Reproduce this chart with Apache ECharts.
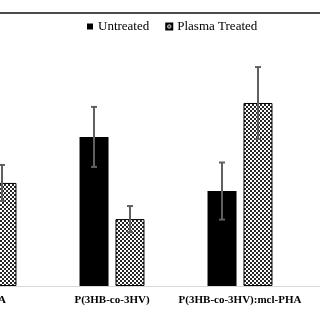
<!DOCTYPE html>
<html>
<head>
<meta charset="utf-8">
<script src="https://cdn.jsdelivr.net/npm/echarts@6/dist/echarts.min.js"></script>
<style>
  html, body { margin: 0; padding: 0; background: #fff; overflow: hidden; width: 320px; height: 320px; }
  /* 图表比窗口宽，左侧被裁掉 */
  #chart { position: absolute; left: -80px; top: 0; width: 512px; height: 320px; }
</style>
</head>
<body>
<div id="chart"></div>
<script>
(function() {
// ── 数据 ──
const categories = ['mcl-PHA', 'P(3HB-co-3HV)', 'P(3HB-co-3HV):mcl-PHA', ''];
const untreated    = [55.0, 60.6, 38.6, null];
const untreatedErr = [10.0, 12.2, 11.6, null];
const plasma       = [41.9, 27.2, 74.4, null];
const plasmaErr    = [7.3, 5.3, 14.6, null];

const SHIFT = 80;  // 容器左移量
const BAR_W = 29, BAR_GAP = 0.24;
const offset = BAR_W / 2 + BAR_W * BAR_GAP / 2;

// ── 网格填充图案 ──
function checker() {
  const cv = document.createElement('canvas');
  cv.width = 4; cv.height = 4;
  const ctx = cv.getContext('2d');
  ctx.fillStyle = '#fff'; ctx.fillRect(0, 0, 4, 4);
  ctx.fillStyle = '#262626';
  ctx.fillRect(0, 0, 2, 2); ctx.fillRect(2, 2, 2, 2);
  return cv;
}
const pattern = { image: checker(), repeat: 'repeat' };

function errorSeries(name, vals, errs, dx) {
  return {
    name: name + '_err', type: 'custom', z: 5, silent: true,
    data: vals.map((v, i) => v == null ? null : [i, v - errs[i], v + errs[i]]),
    renderItem: function(params, api) {
      const lo = api.coord([api.value(0), api.value(1)]);
      const hi = api.coord([api.value(0), api.value(2)]);
      const x = lo[0] + dx, cap = 3;
      const style = { stroke: '#606060', lineWidth: 2 };
      return { type: 'group', children: [
        { type: 'line', shape: { x1: x, y1: lo[1], x2: x, y2: hi[1] }, style: style },
        { type: 'line', shape: { x1: x - cap, y1: hi[1], x2: x + cap, y2: hi[1] }, style: style },
        { type: 'line', shape: { x1: x - cap, y1: lo[1], x2: x + cap, y2: lo[1] }, style: style }
      ]};
    }
  };
}

const chart = echarts.init(document.getElementById('chart'), null, { renderer: 'canvas' });
chart.setOption({
  animation: false,
  backgroundColor: '#fff',
  graphic: [{ type: 'line', shape: { x1: 0, y1: 13, x2: 512, y2: 13 }, style: { stroke: '#111', lineWidth: 1.5 } }],
  legend: {
    data: ['Untreated', 'Plasma Treated'],
    left: 82 + SHIFT, top: 15, icon: 'rect', itemWidth: 6, itemHeight: 6, itemGap: 16,
    textStyle: { fontFamily: 'Liberation Serif', fontSize: 13, color: '#000' }
  },
  grid: { left: 0, right: 0, top: 40, bottom: 34 },
  xAxis: {
    type: 'category', data: categories,
    axisLine: { lineStyle: { color: '#d9d9d9', width: 1 } },
    axisTick: { show: false },
    axisLabel: { interval: 0, margin: 9, color: '#000', fontFamily: 'Liberation Serif', fontWeight: 'bold', fontSize: 11 }
  },
  yAxis: { type: 'value', min: 0, max: 100, show: false, splitLine: { show: false } },
  series: [
    { name: 'Untreated', type: 'bar', data: untreated, barWidth: BAR_W, barGap: (BAR_GAP * 100) + '%',
      itemStyle: { color: '#000', borderColor: '#000', borderWidth: 0 } },
    { name: 'Plasma Treated', type: 'bar', data: plasma, barWidth: BAR_W,
      itemStyle: { color: pattern, borderColor: '#000', borderWidth: 1 } },
    errorSeries('Untreated', untreated, untreatedErr, -offset),
    errorSeries('Plasma Treated', plasma, plasmaErr, offset)
  ]
});
})();
</script>
</body>
</html>
